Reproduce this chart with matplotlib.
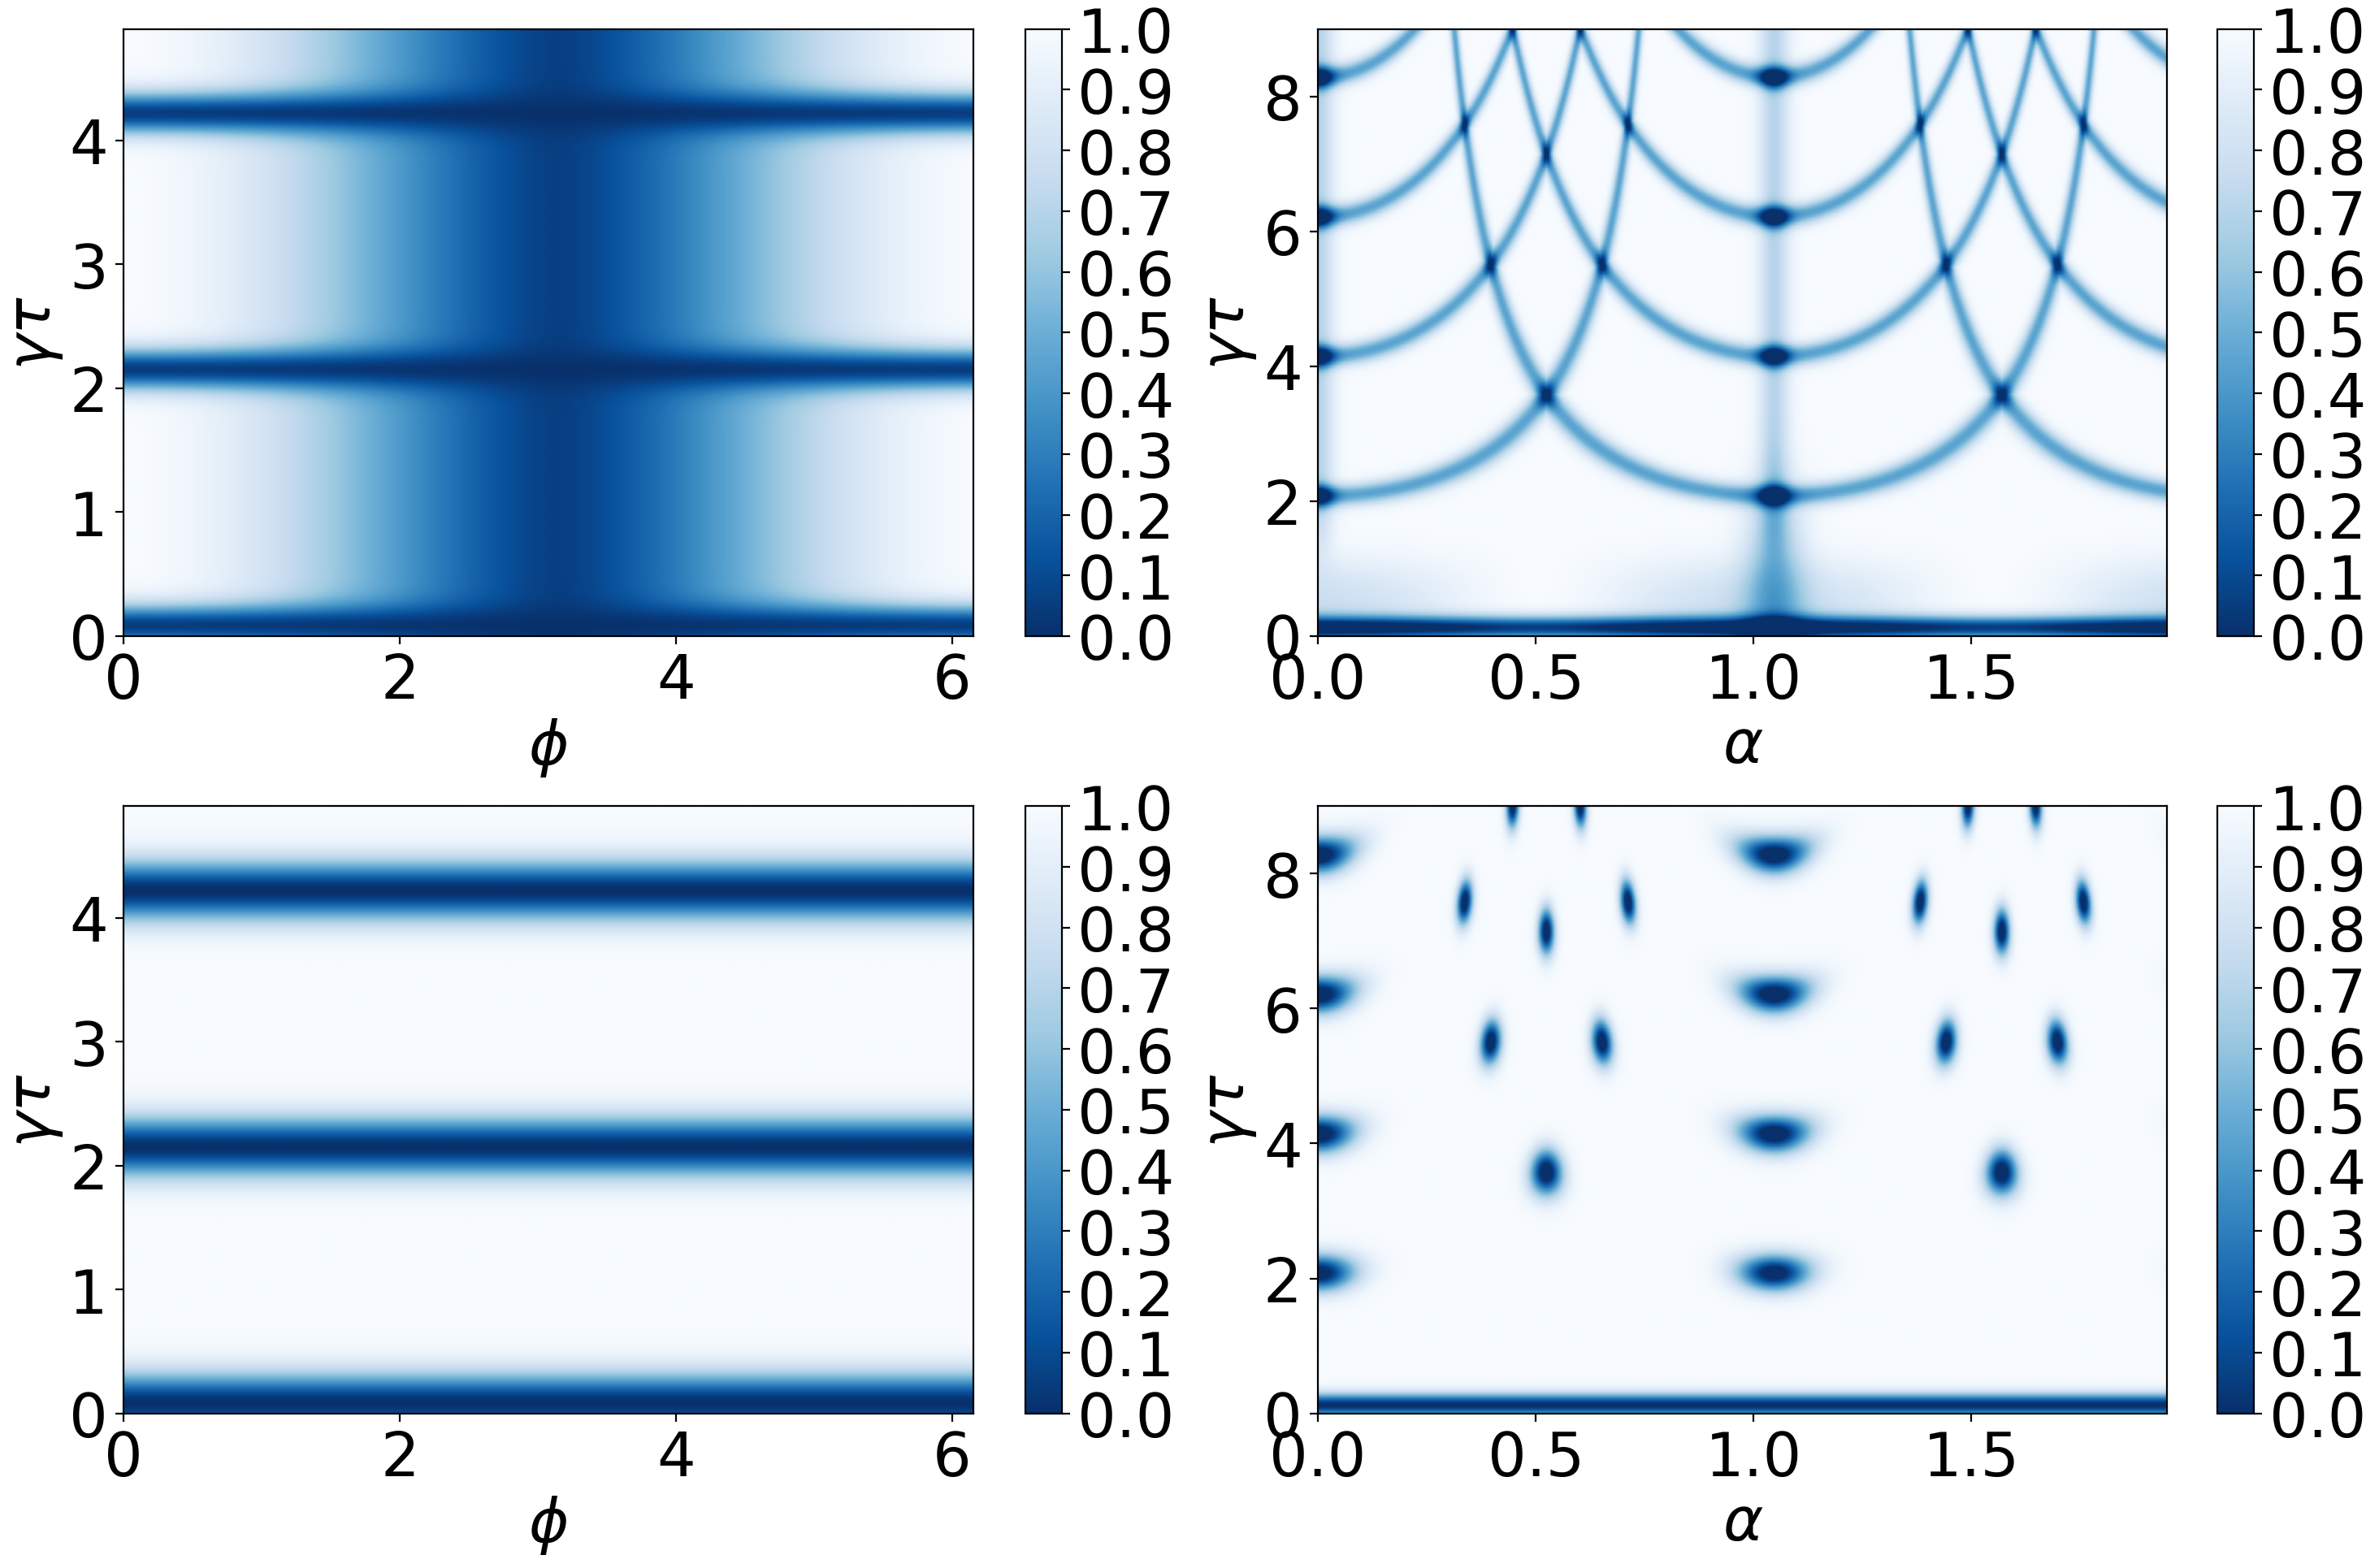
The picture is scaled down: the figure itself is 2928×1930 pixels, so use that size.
import numpy as np
import matplotlib
matplotlib.use("Agg")
import matplotlib.pyplot as plt

# axis ranges / ticks
phi_range = [0.0, 6.15]
gt_left_range = [0.0, 4.9]
alpha_range = [0.0, 1.95]
gt_right_range = [0.0, 9.0]
band_period = 2.07          # spacing of dark gamma*tau bands
band_offset = 0.08
arc_centres = [0.0, 1.047, 2.094]
cbar_ticks = [0.0, 0.1, 0.2, 0.3, 0.4, 0.5, 0.6, 0.7, 0.8, 0.9, 1.0]

plt.rcParams['font.size'] = 27

phi = np.linspace(*phi_range, 500)
gl = np.linspace(*gt_left_range, 500)
P, G = np.meshgrid(phi, gl)

def band(y, period, w, off):
    d = (y - off + period / 2) % period - period / 2
    return np.exp(-(d / w) ** 2)

V_tl = 0.06 + 0.94 * ((1 + np.cos(P)) / 2) ** 0.8
tl = np.clip((1 - 0.95 * band(G, band_period, 0.17, band_offset)) * V_tl, 0, 1)
bl = 1 - band(G, band_period, 0.24, band_offset)

al = np.linspace(*alpha_range, 500)
gr = np.linspace(*gt_right_range, 600)
A, GR = np.meshgrid(al, gr)

def families(w_arc, w_vert):
    k = 1.82
    Ls = []
    for ac in arc_centres:
        c = np.cos(k * (A - ac))
        cc = np.clip(c, 0.05, None)
        d = GR * cc
        dd = (d + band_period / 2) % band_period - band_period / 2
        L = np.exp(-(dd / w_arc) ** 2)
        L = L * (c > 0.05) * (1 - np.exp(-(d / 1.2) ** 6))
        Ls.append(L)
    Vl = [np.exp(-((A - ac) / w_vert) ** 2) * (1 - np.exp(-(GR / 1.5) ** 4))
          for ac in arc_centres]
    return Ls, Vl

Ls, Vl = families(0.16, 0.035)
fams = Ls + Vl
D = np.zeros_like(A)
for i in range(len(fams)):
    for j in range(i + 1, len(fams)):
        D = np.maximum(D, fams[i] * fams[j])
Lmax = np.max(np.array(Ls), axis=0)
Vmax = np.max(np.array(Vl), axis=0)
bottom = np.exp(-((GR - 0.12) / 0.17) ** 2)
Vhaze = np.exp(-((A - 1.047) / 0.07) ** 2) * np.exp(-(GR / 2.2) ** 4)
low = np.exp(-(GR / 1.1) ** 4) * 0.25 * (1 - np.exp(-((A - 0.5) / 0.3) ** 2)) \
    * (1 - np.exp(-((A - 1.55) / 0.3) ** 2))
tr = 1 - 0.55 * Lmax - 0.3 * Vmax - 0.55 * D - 0.95 * bottom - low - 0.4 * Vhaze
tr = np.clip(tr, 0, 1)

Ls2, Vl2 = families(0.3, 0.09)
fams2 = Ls2 + Vl2
D2 = np.zeros_like(A)
for i in range(len(fams2)):
    for j in range(i + 1, len(fams2)):
        D2 = np.maximum(D2, fams2[i] * fams2[j])
br = np.clip(1 - 1.15 * D2 ** 1.2 - bottom, 0, 1)

W, Hh = 2928, 1931
fig = plt.figure(figsize=(W / 200, Hh / 200), dpi=200)
axpos = [(0.052, 0.594), (0.554, 0.594), (0.052, 0.0986), (0.554, 0.0986)]
cbx = [0.431, 0.932]
data = [(tl, phi_range, gt_left_range, r'$\phi$', [0, 2, 4, 6]),
        (tr, alpha_range, gt_right_range, r'$\alpha$', [0.0, 0.5, 1.0, 1.5]),
        (bl, phi_range, gt_left_range, r'$\phi$', [0, 2, 4, 6]),
        (br, alpha_range, gt_right_range, r'$\alpha$', [0.0, 0.5, 1.0, 1.5])]
for idx, (Z, xr, yr, xl, xt) in enumerate(data):
    x0, y0 = axpos[idx]
    ax = fig.add_axes([x0, y0, 0.357, 0.387])
    im = ax.imshow(Z, origin='lower', extent=[xr[0], xr[1], yr[0], yr[1]],
                   aspect='auto', cmap='Blues_r', vmin=0, vmax=1)
    ax.set_xlabel(xl, labelpad=2)
    ax.set_ylabel(r'$\gamma\tau$', labelpad=2)
    ax.set_xticks(xt)
    if idx % 2 == 1:
        ax.set_xticklabels([f'{v:.1f}' for v in xt])
        ax.set_yticks([0, 2, 4, 6, 8])
    else:
        ax.set_yticks([0, 1, 2, 3, 4])
    cax = fig.add_axes([cbx[idx % 2], y0, 0.0153, 0.387])
    cb = fig.colorbar(im, cax=cax, ticks=cbar_ticks)
    cb.ax.set_yticklabels([f'{v:.1f}' for v in cbar_ticks])
fig.savefig('out.png', dpi=200)
